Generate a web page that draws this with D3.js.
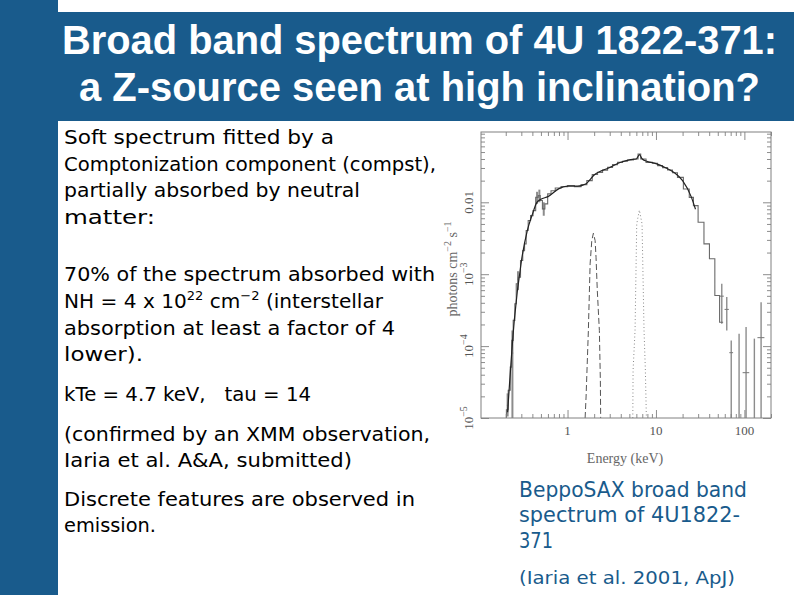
<!DOCTYPE html>
<html>
<head>
<meta charset="utf-8">
<script src="https://cdn.jsdelivr.net/npm/d3@7"></script>
<style>
  html, body { margin: 0; padding: 0; background: #fff; }
  svg { display: block; }
  text { white-space: pre; }
</style>
</head>
<body>
<svg id="chart" width="794" height="595"></svg>
<script>
// ---------------- DATA ----------------
const titleLines = ["Broad band spectrum of 4U 1822-371:", "a Z-source seen at high inclination?"];

// BeppoSAX spectrum: energy (keV) and photons cm^-2 s^-1 (step histogram)
const specE = [0.200, 0.207, 0.220, 0.230, 0.236, 0.250, 0.257, 0.269, 0.285, 0.303, 0.320, 0.333, 0.348, 0.370, 0.394, 0.421, 0.452, 0.480, 0.502, 0.538, 0.571, 0.622, 0.680, 0.775, 0.920, 1.095, 1.304, 1.549, 1.765, 2.05, 2.331, 2.66, 3.025, 3.44, 3.926, 4.47, 5.09, 6.06, 6.49, 6.96, 8.57, 9.77, 11.1, 12.7, 14.4, 16.4, 18.7, 22.3, 25.4, 27.7, 32.4, 37.6, 43.1, 49.8, 55.2, 57.5];
const specF = [5e-6, 1.3e-5, 2.43e-5, 5.1e-5, 1.2e-4, 2.28e-4, 3.88e-4, 7.36e-4, 9.08e-4, 1.55e-3, 2.13e-3, 2.64e-3, 4.05e-3, 5.57e-3, 6.53e-3, 7.67e-3, 1.17e-2, 1.24e-2, 1.06e-2, 8.1e-3, 9.5e-3, 1.31e-2, 1.45e-2, 1.58e-2, 1.65e-2, 1.71e-2, 1.65e-2, 1.76e-2, 2.0e-2, 2.43e-2, 2.61e-2, 2.8e-2, 3.06e-2, 3.34e-2, 3.59e-2, 3.73e-2, 3.88e-2, 4.0e-2, 4.7e-2, 4.0e-2, 3.59e-2, 3.5e-2, 3.24e-2, 3.04e-2, 2.82e-2, 2.58e-2, 2.22e-2, 1.53e-2, 1.17e-2, 8.99e-3, 5.28e-3, 2.64e-3, 1.64e-3, 5.06e-4, 2.15e-4, 2.15e-4];

// best-fit model (black line)
const modelE = [0.21, 0.25, 0.30, 0.35, 0.40, 0.45, 0.50, 0.60, 0.80, 1.0, 1.3, 1.6, 2.0, 3.0, 4.0, 5.0, 6.0, 6.5, 7.0, 8.0, 10, 13, 16, 20, 25, 28];
const modelF = [1.2e-5, 2.3e-4, 1.5e-3, 4.0e-3, 6.8e-3, 1.0e-2, 1.1e-2, 1.2e-2, 1.55e-2, 1.68e-2, 1.68e-2, 1.8e-2, 2.4e-2, 3.05e-2, 3.6e-2, 3.9e-2, 4.0e-2, 4.6e-2, 4.0e-2, 3.7e-2, 3.45e-2, 3.0e-2, 2.6e-2, 2.0e-2, 1.2e-2, 8.0e-3];

// error bars (centre, low, high, half bin width in keV)
const errE  = [0.210, 0.238, 0.275, 0.452, 0.480, 0.538, 55.5, 63.2, 71.0, 87.1, 104.5, 129.7, 154.5];
const errF  = [1.5e-5, 8e-5, 8.5e-4, 1.17e-2, 1.24e-2, 8.1e-3, 4.95e-4, 3.24e-4, 8.1e-5, 3.0e-5, 4.27e-5, 2.5e-5, 1.31e-4];
const errLo = [1.05e-5, 1e-6, 6e-4, 9.5e-3, 1.0e-2, 6.5e-3, 2.05e-4, 1.65e-4, 1e-6, 1e-6, 1e-6, 1e-6, 1e-6];
const errHi = [2.2e-5, 1.65e-4, 1.1e-3, 1.4e-2, 1.5e-2, 1.0e-2, 7.36e-4, 4.8e-4, 1.2e-4, 1.49e-4, 1.84e-4, 1.27e-4, 4.08e-4];
const errDE = [0.004, 0.005, 0.006, 0.01, 0.01, 0.015, 3, 3.5, 3.5, 0, 9, 0, 14];

// Gaussian line ~2 keV (dashed) and Fe line (dotted)
const gaussE = [1.58, 1.62, 1.72, 1.80, 1.88, 1.96, 2.05, 2.10, 2.17, 2.29, 2.35, 2.37];
const gaussF = [1e-5, 1.96e-5, 1.65e-4, 1.39e-3, 2.94e-3, 3.71e-3, 2.94e-3, 1.72e-3, 5.94e-4, 1.65e-4, 3.34e-5, 1e-5];
const feE = [5.47, 5.51, 5.80, 6.06, 6.49, 6.96, 7.33, 7.59, 7.79];
const feF = [1e-5, 4.6e-5, 1.65e-4, 5.0e-3, 7.8e-3, 5.0e-3, 1.65e-4, 4.6e-5, 1e-5];

// axes ticks
const xMajorTicks = [1, 10, 100];
const xTickLabels = ["1", "10", "100"];
const xMinorTicks = [0.2,0.3,0.4,0.5,0.6,0.7,0.8,0.9, 2,3,4,5,6,7,8,9, 20,30,40,50,60,70,80,90, 200];
const yMajorTicks = [1e-5, 1e-4, 1e-3, 1e-2];
const yTickBase = ["10", "10", "10", "0.01"];
const yTickExp  = ["\u22125", "\u22124", "\u22123", ""];
const yMinorTicks = [2e-5,3e-5,4e-5,5e-5,6e-5,7e-5,8e-5,9e-5, 2e-4,3e-4,4e-4,5e-4,6e-4,7e-4,8e-4,9e-4, 2e-3,3e-3,4e-3,5e-3,6e-3,7e-3,8e-3,9e-3, 0.02,0.03,0.04,0.05,0.06,0.07,0.08,0.09];

// slide texts: [text, target width, baseline]
const leftLines = [
  ["Soft spectrum fitted by a", 270, 144],
  ["Comptonization component (compst),", 372, 171],
  ["partially absorbed by neutral", 296, 197],
  ["matter:", 91, 224],
  ["70% of the spectrum absorbed with", 371, 281],
  ["NH = 4 x 10|22| cm|-2| (interstellar", 319, 308],
  ["absorption at least a factor of 4", 331, 335],
  ["lower).", 79, 361],
  ["kTe = 4.7 keV,   tau = 14", 247, 401],
  ["(confirmed by an XMM observation,", 366, 441],
  ["Iaria et al. A&A, submitted)", 288, 467],
  ["Discrete features are observed in", 351, 506],
  ["emission.", 92, 532]
];
const captionLines = [
  ["BeppoSAX broad band", 228, 497, 21],
  ["spectrum of 4U1822-", 221, 522, 21],
  ["371", 34, 548, 21],
  ["(Iaria et al. 2001, ApJ)", 216, 584, 18]
];

// ---------------- DRAWING ----------------
const blue = "#195b8c";
const svg = d3.select("#chart");

svg.append("rect").attr("width", 794).attr("height", 595).attr("fill", "#fff");
svg.append("rect").attr("x", 0).attr("y", 0).attr("width", 58).attr("height", 595).attr("fill", blue);
svg.append("rect").attr("x", 0).attr("y", 12).attr("width", 794).attr("height", 109).attr("fill", blue);

// title
svg.selectAll("text.title").data(titleLines).join("text")
  .attr("class", "title")
  .attr("x", 419.5).attr("y", (d, i) => i === 0 ? 53.5 : 100.5)
  .attr("text-anchor", "middle")
  .attr("font-family", "'Liberation Sans', Arial, sans-serif")
  .attr("font-weight", "bold").attr("font-size", 40)
  .attr("fill", "#fff")
  .attr("textLength", (d, i) => i === 0 ? 715 : 681)
  .attr("lengthAdjust", "spacingAndGlyphs")
  .text(d => d);

// left text
const ltxt = svg.append("g")
  .attr("font-family", "'DejaVu Sans', 'Noto Sans', sans-serif")
  .attr("font-size", 20).attr("fill", "#000");
leftLines.forEach(([t, w, yb]) => {
  const el = ltxt.append("text").attr("x", 64).attr("y", yb)
    .attr("textLength", w).attr("lengthAdjust", "spacingAndGlyphs");
  const parts = t.split("|");
  parts.forEach((p, i) => {
    if (i % 2 === 1) {
      el.append("tspan").attr("font-size", 13).attr("dy", -8).text(p.replace("-", "\u2212"));
    } else {
      const ts = el.append("tspan").text(p);
      if (i > 0) ts.attr("dy", 8);
    }
  });
});

// caption
svg.append("g").attr("font-family", "'DejaVu Sans', 'Noto Sans', sans-serif").attr("fill", blue)
  .selectAll("text").data(captionLines).join("text")
  .attr("x", 519).attr("y", d => d[2]).attr("font-size", d => d[3])
  .attr("textLength", d => d[1]).attr("lengthAdjust", "spacingAndGlyphs")
  .text(d => d[0]);

// ---------------- CHART ----------------
const x = d3.scaleLog().domain([0.105, 200]).range([481, 771]);
const y = d3.scaleLog().domain([1e-5, 0.095]).range([418, 132]);
const [x0, x1] = x.range();
const [y0, y1] = y.range();
const axisCol = "#808080";

svg.append("clipPath").attr("id", "plotclip").append("rect")
  .attr("x", x0).attr("y", y1).attr("width", x1 - x0).attr("height", y0 - y1);

const plot = svg.append("g").attr("clip-path", "url(#plotclip)");

const spec = specE.map((e, i) => [e, specF[i]]);
const model = modelE.map((e, i) => [e, modelF[i]]);
const gauss = gaussE.map((e, i) => [e, gaussF[i]]);
const fe = feE.map((e, i) => [e, feF[i]]);

const yc = v => y(Math.max(v, 1e-6));

// error bars
errE.forEach((e, i) => {
  plot.append("line")
    .attr("x1", x(e)).attr("x2", x(e))
    .attr("y1", yc(errLo[i])).attr("y2", yc(errHi[i]))
    .attr("stroke", "#8c8c8c").attr("stroke-width", e < 1 ? 2 : 1.4);
  if (errDE[i] > 0) {
    plot.append("line")
      .attr("x1", x(e - errDE[i])).attr("x2", x(e + errDE[i]))
      .attr("y1", yc(errF[i])).attr("y2", yc(errF[i]))
      .attr("stroke", "#777").attr("stroke-width", 1);
  }
});

// data step histogram
plot.append("path").datum(spec)
  .attr("d", d3.line().x(d => x(d[0])).y(d => yc(d[1])).curve(d3.curveStep))
  .attr("fill", "none").attr("stroke", "#6a6a6a").attr("stroke-width", 1.1);

// model
plot.append("path").datum(model)
  .attr("d", d3.line().x(d => x(d[0])).y(d => yc(d[1])).curve(d3.curveMonotoneX))
  .attr("fill", "none").attr("stroke", "#222").attr("stroke-width", 1.2);

// gaussian component (dashed)
plot.append("path").datum(gauss)
  .attr("d", d3.line().x(d => x(d[0])).y(d => yc(d[1])))
  .attr("fill", "none").attr("stroke", "#555").attr("stroke-width", 1)
  .attr("stroke-dasharray", "6,3");

// iron line (dotted)
plot.append("path").datum(fe)
  .attr("d", d3.line().x(d => x(d[0])).y(d => yc(d[1])))
  .attr("fill", "none").attr("stroke", "#8a8a8a").attr("stroke-width", 1)
  .attr("stroke-dasharray", "1,2.5");

// frame
svg.append("rect").attr("x", x0).attr("y", y1).attr("width", x1 - x0).attr("height", y0 - y1)
  .attr("fill", "none").attr("stroke", axisCol).attr("stroke-width", 1);

function addAxis(gen, tx, ty) {
  svg.append("g").attr("transform", `translate(${tx},${ty})`).call(gen)
    .call(g => g.select(".domain").remove())
    .call(g => g.selectAll("line").attr("stroke", axisCol).attr("stroke-width", 0.9))
    .call(g => g.selectAll("text").remove());
}
addAxis(d3.axisBottom(x).tickValues(xMajorTicks).tickSize(-8), 0, y0);
addAxis(d3.axisBottom(x).tickValues(xMinorTicks).tickSize(-4), 0, y0);
addAxis(d3.axisTop(x).tickValues(xMajorTicks).tickSize(-8), 0, y1);
addAxis(d3.axisTop(x).tickValues(xMinorTicks).tickSize(-4), 0, y1);
addAxis(d3.axisLeft(y).tickValues(yMajorTicks).tickSize(-8), x0, 0);
addAxis(d3.axisLeft(y).tickValues(yMinorTicks).tickSize(-4), x0, 0);
addAxis(d3.axisRight(y).tickValues(yMajorTicks).tickSize(-8), x1, 0);
addAxis(d3.axisRight(y).tickValues(yMinorTicks).tickSize(-4), x1, 0);

// x tick labels
svg.append("g").attr("font-family", "'Liberation Serif', 'DejaVu Serif', serif")
  .attr("font-size", 13).attr("fill", "#555")
  .selectAll("text").data(xMajorTicks).join("text")
  .attr("x", d => x(d)).attr("y", y0 + 17)
  .attr("text-anchor", "middle")
  .text((d, i) => xTickLabels[i]);

// y tick labels (rotated)
yMajorTicks.forEach((v, i) => {
  const t = svg.append("text")
    .attr("transform", `translate(${x0 - 8},${y(v)}) rotate(-90)`)
    .attr("text-anchor", "middle")
    .attr("font-family", "'Liberation Serif', 'DejaVu Serif', serif")
    .attr("font-size", 13).attr("fill", "#555");
  t.append("tspan").text(yTickBase[i]);
  if (yTickExp[i]) t.append("tspan").attr("font-size", 10).attr("dy", -6).text(yTickExp[i]);
});

// axis titles
svg.append("text").attr("x", (x0 + x1) / 2 - 1).attr("y", 463)
  .attr("text-anchor", "middle")
  .attr("font-family", "'Liberation Serif', 'DejaVu Serif', serif")
  .attr("font-size", 14).attr("fill", "#666")
  .text("Energy (keV)");

const yt = svg.append("text")
  .attr("transform", `translate(457,269) rotate(-90)`)
  .attr("text-anchor", "middle")
  .attr("font-family", "'Liberation Serif', 'DejaVu Serif', serif")
  .attr("font-size", 14).attr("fill", "#666");
yt.append("tspan").text("photons cm");
yt.append("tspan").attr("font-size", 10).attr("dy", -6).text("\u22122");
yt.append("tspan").attr("dy", 6).text(" s");
yt.append("tspan").attr("font-size", 10).attr("dy", -6).text("\u22121");
</script>
</body>
</html>
